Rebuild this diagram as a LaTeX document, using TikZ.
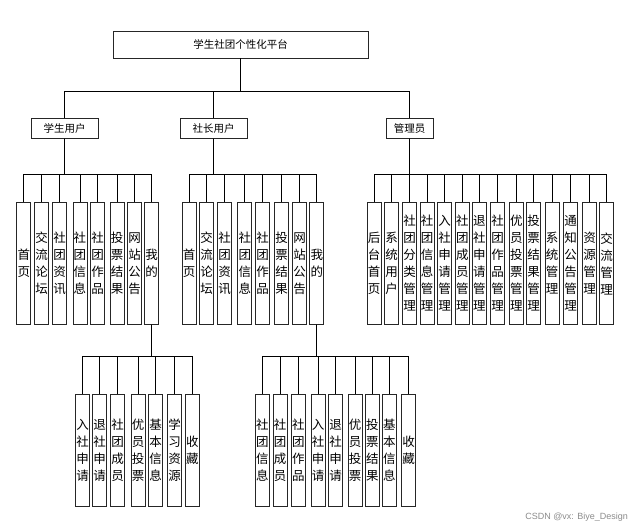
\documentclass[tikz,border=0pt]{standalone}
\usepackage{fontspec}
\newfontfamily\cjk{Noto Sans CJK SC}
\begin{document}
\begin{tikzpicture}[x=1pt,y=-1pt,
  box/.style={draw=black!85,line width=0.9pt,inner sep=0pt,font=\cjk\fontsize{10.5}{12}\selectfont},
  leaf/.style={draw=black!85,line width=0.9pt,inner sep=0pt,minimum width=14pt,align=center,font=\cjk\fontsize{12.5}{17}\selectfont},
  leafA/.style={leaf,minimum height=121.5pt},
  leafB/.style={leaf,minimum height=111.7pt},
  conn/.style={draw=black,line width=0.9pt}]
\useasboundingbox (0,0) rectangle (633,528);
\fill[white] (0,0) rectangle (633,528);
% root and level 2
\node[box,minimum width=255pt,minimum height=27pt] (root) at (240.5,44.5) {学生社团个性化平台};
\node[box,minimum width=67pt,minimum height=19.5pt] (stu) at (64.5,128.3) {学生用户};
\node[box,minimum width=67pt,minimum height=19.5pt] (pres) at (213.5,128.3) {社长用户};
\node[box,minimum width=47pt,minimum height=19.5pt] (adm) at (409.5,128.3) {管理员};
\coordinate (bar0) at (0,91);
\coordinate (bar1) at (0,174);
\coordinate (bar2) at (0,356.7);
\foreach \c in {stu,pres,adm}{
  \draw[conn] (root.south) -- (root.south |- bar0) -| (\c.north);
}
% student leaves
\foreach \x/\t/\n in {23.9/{首\\页}/s1,41.7/{交\\流\\论\\坛}/s2,59.7/{社\\团\\资\\讯}/s3,80/{社\\团\\信\\息}/s4,97.5/{社\\团\\作\\品}/s5,117/{投\\票\\结\\果}/s6,134.7/{网\\站\\公\\告}/s7,151.7/{我\\的}/s8}{
  \node[leafA] (\n) at (\x,263.5) {\t};
  \draw[conn] (stu.south) -- (stu.south |- bar1) -| (\n.north);
}
% president leaves
\foreach \x/\t/\n in {189/{首\\页}/p1,206.5/{交\\流\\论\\坛}/p2,224.7/{社\\团\\资\\讯}/p3,244.9/{社\\团\\信\\息}/p4,262.5/{社\\团\\作\\品}/p5,281.7/{投\\票\\结\\果}/p6,299.5/{网\\站\\公\\告}/p7,316.9/{我\\的}/p8}{
  \node[leafA] (\n) at (\x,263.5) {\t};
  \draw[conn] (pres.south) -- (pres.south |- bar1) -| (\n.north);
}
% admin leaves
\foreach \x/\t/\n in {374/{后\\台\\首\\页}/a1,391.5/{系\\统\\用\\户}/a2,409.5/{社\\团\\分\\类\\管\\理}/a3,427/{社\\团\\信\\息\\管\\理}/a4,444.7/{入\\社\\申\\请\\管\\理}/a5,462.3/{社\\团\\成\\员\\管\\理}/a6,479.3/{退\\社\\申\\请\\管\\理}/a7,497.7/{社\\团\\作\\品\\管\\理}/a8,516.3/{优\\员\\投\\票\\管\\理}/a9,533.5/{投\\票\\结\\果\\管\\理}/a10,552/{系\\统\\管\\理}/a11,570.7/{通\\知\\公\\告\\管\\理}/a12,589.7/{资\\源\\管\\理}/a13,606.5/{交\\流\\管\\理}/a14}{
  \node[leafA] (\n) at (\x,263.5) {\t};
  \draw[conn] (adm.south) -- (adm.south |- bar1) -| (\n.north);
}
% student "我的" children
\foreach \x/\t/\n in {82.7/{入\\社\\申\\请}/sm1,99.7/{退\\社\\申\\请}/sm2,117.7/{社\\团\\成\\员}/sm3,138/{优\\员\\投\\票}/sm4,155.7/{基\\本\\信\\息}/sm5,174.7/{学\\习\\资\\源}/sm6,192.3/{收\\藏}/sm7}{
  \node[leafB] (\n) at (\x,450.2) {\t};
  \draw[conn] (s8.south) -- (s8.south |- bar2) -| (\n.north);
}
% president "我的" children
\foreach \x/\t/\n in {262.3/{社\\团\\信\\息}/pm1,280/{社\\团\\成\\员}/pm2,298.3/{社\\团\\作\\品}/pm3,318/{入\\社\\申\\请}/pm4,335.7/{退\\社\\申\\请}/pm5,355/{优\\员\\投\\票}/pm6,372.3/{投\\票\\结\\果}/pm7,389.3/{基\\本\\信\\息}/pm8,408.7/{收\\藏}/pm9}{
  \node[leafB] (\n) at (\x,450.2) {\t};
  \draw[conn] (p8.south) -- (p8.south |- bar2) -| (\n.north);
}
\node[anchor=east,text=black!45,inner sep=0pt,font=\fontspec{Liberation Sans}\fontsize{9}{10}\selectfont] (wm) at (628,517) {CSDN @vx: Biye\_Design};
\end{tikzpicture}
\end{document}
